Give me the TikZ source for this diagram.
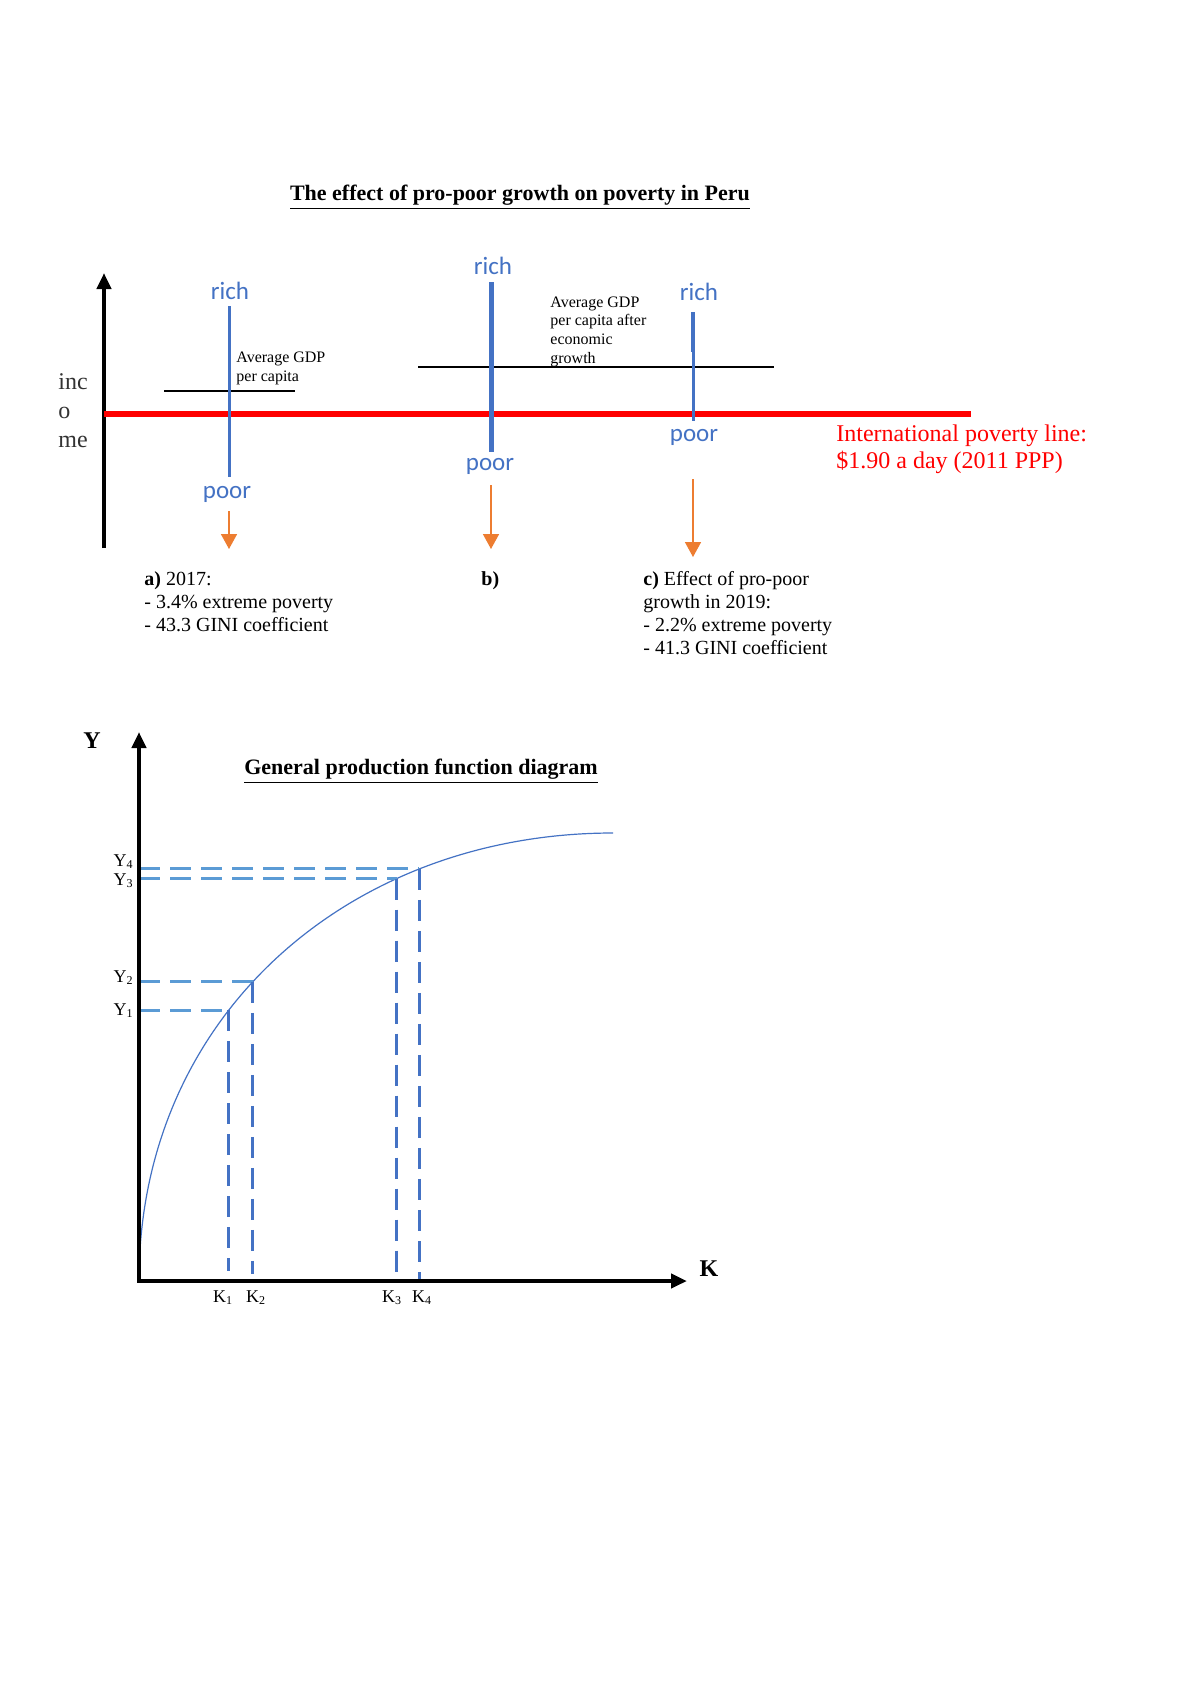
\documentclass[tikz,border=0pt]{standalone}
\usepackage{fontspec}
\setmainfont{Liberation Serif}
\newfontfamily\calibri{Carlito}
\usetikzlibrary{arrows.meta}
\definecolor{wblue}{HTML}{4472C4}
\definecolor{lblue}{HTML}{5B9BD5}
\definecolor{worange}{HTML}{ED7D31}
\definecolor{wred}{HTML}{FF0000}
\begin{document}
\begin{tikzpicture}[x=0.5pt,y=-0.5pt,
  every node/.style={inner sep=0pt},
  titlelbl/.style={font=\bfseries\fontsize{11}{13}\selectfont},
  richpoor/.style={font=\calibri\fontsize{12.5}{14}\selectfont, text=wblue},
  smalltxt/.style={anchor=north west, align=left, font=\fontsize{8}{9.6}\selectfont},
  bodytxt/.style={anchor=north west, align=left, font=\fontsize{10}{11.5}\selectfont},
  axisline/.style={line width=2pt},
  axistip/.style={-{Triangle[width=7pt,length=8pt]}},
  avgline/.style={line width=1.2pt, black},
  orangearrow/.style={worange, line width=0.8pt, -{Triangle[width=8pt,length=7.5pt]}},
  vdash/.style={wblue, line width=1.5pt, dash pattern=on 10.5pt off 5pt},
  hdash/.style={lblue, line width=1.5pt, dash pattern=on 10.5pt off 5pt},
  prodcurve/.style={wblue, line width=0.6pt},
  ylbl/.style={anchor=east, font=\fontsize{9}{10}\selectfont},
  klbl/.style={font=\fontsize{9}{10}\selectfont},
  axislbl/.style={font=\bfseries\fontsize{12}{14}\selectfont}
]
\fill[white] (0,0) rectangle (1200,1698);
\useasboundingbox (0,0) rectangle (1200,1698);

% ---------------- Top diagram ----------------
\node[titlelbl] (title1) at (520,197) {\underline{The effect of pro-poor growth on poverty in Peru}};

% income axis
\coordinate (incTop) at (104,273);
\coordinate (incBot) at (104,548);
\draw[axisline, axistip] (incBot) -- (incTop);
\node[anchor=north west, align=left, font=\fontsize{12}{14.5}\selectfont, text=black!80] (inc) at (58,373) {inc\\o\\me};

% poverty line
\coordinate (plL) at (104,414);
\coordinate (plR) at (971,414);
\draw[wred, line width=2.6pt] (plL) -- (plR);
\node[anchor=north west, align=left, text=wred, font=\fontsize{12}{13.5}\selectfont] (intl) at (836,424) {International poverty line:\\\$1.90 a day (2011 PPP)};

% average lines
\coordinate (avgAL) at (164,391);
\coordinate (avgAR) at (295,391);
\draw[avgline] (avgAL) -- (avgAR);
\coordinate (avgBL) at (418,367);
\coordinate (avgBR) at (774,367);
\draw[avgline] (avgBL) -- (avgBR);

\node[smalltxt] (avgA) at (236,351) {Average GDP\\per capita};
\node[smalltxt, font=\fontsize{8}{9.4}\selectfont] (avgB) at (550,296) {Average GDP\\per capita after\\economic\\growth};

% group a
\node[richpoor] (richA) at (230,291) {rich};
\node[richpoor] (poorA) at (227,494) {poor};
\coordinate (aTop) at (229,306);
\coordinate (aBot) at (229,477);
\draw[wblue, line width=1.5pt] (aTop) -- (aBot);
\coordinate (oaS) at (229,511);
\coordinate (oaE) at (229,549);
\draw[orangearrow] (oaS) -- (oaE);
\node[bodytxt] (txtA) at (144,571) {\textbf{a)} 2017:\\- 3.4\% extreme poverty\\- 43.3 GINI coefficient};

% group b
\node[richpoor] (richB) at (493,266) {rich};
\node[richpoor] (poorB) at (490,466) {poor};
\coordinate (bTop) at (491,282);
\coordinate (bBot) at (491,452);
\draw[wblue, line width=2.5pt] (bTop) -- (bBot);
\coordinate (obS) at (491,485);
\coordinate (obE) at (491,549);
\draw[orangearrow] (obS) -- (obE);
\node[bodytxt] (txtB) at (481,571) {\textbf{b)}};

% group c
\node[richpoor] (richC) at (699,292) {rich};
\node[richpoor] (poorC) at (694,437) {poor};
\coordinate (cTop) at (693,312);
\coordinate (cMid) at (693,352);
\coordinate (cBot) at (693,421);
\draw[wblue, line width=2.2pt] (cTop) -- (cMid);
\draw[wblue, line width=1.5pt] (cMid) -- (cBot);
\coordinate (ocS) at (693,479);
\coordinate (ocE) at (693,557);
\draw[orangearrow] (ocS) -- (ocE);
\node[bodytxt] (txtC) at (643,571) {\textbf{c)} Effect of pro-poor\\growth in 2019:\\- 2.2\% extreme poverty\\- 41.3 GINI coefficient};

% ---------------- Bottom diagram ----------------
\node[titlelbl] (title2) at (421,771) {\underline{General production function diagram}};

\coordinate (O) at (139,1281);
\coordinate (Ytip) at (139,732);
\coordinate (Ktip) at (687,1281);
\coordinate (cEnd) at (613,833);

\draw[prodcurve] (O) .. controls (139,1015) and (350,833) .. (cEnd)
  coordinate[pos=0.397] (p1) coordinate[pos=0.45] (p2)
  coordinate[pos=0.703] (p3) coordinate[pos=0.737] (p4);

% dashed guides
\draw[hdash] (O |- p4) -- (p4);
\draw[hdash] (O |- p3) -- (p3);
\draw[hdash] (O |- p2) -- (p2);
\draw[hdash] (O |- p1) -- (p1);
\draw[vdash, shorten >=5pt] (p1) -- (p1 |- O);
\draw[vdash, shorten >=3.5pt] (p2) -- (p2 |- O);
\draw[vdash] (p3) -- (p3 |- O);
\draw[vdash] (p4) -- (p4 |- O);

% axes
\draw[axisline, {Triangle[width=7pt,length=8pt]}-{Triangle[width=7pt,length=8pt]}, line join=miter] (Ytip) -- (O) -- (Ktip);
\node[axislbl] (Ylbl) at (92,741) {Y};
\node[axislbl] (Klbl) at (709,1269) {K};

% axis labels
\node[ylbl] (y4) at (134,862) {Y\textsubscript{4}};
\node[ylbl] (y3) at (134,881) {Y\textsubscript{3}};
\node[ylbl] (y2) at (134,978) {Y\textsubscript{2}};
\node[ylbl] (y1) at (134,1011) {Y\textsubscript{1}};
\node[klbl] (k1) at (223,1298) {K\textsubscript{1}};
\node[klbl] (k2) at (256,1298) {K\textsubscript{2}};
\node[klbl] (k3) at (392,1298) {K\textsubscript{3}};
\node[klbl] (k4) at (422,1298) {K\textsubscript{4}};
\end{tikzpicture}
\end{document}
